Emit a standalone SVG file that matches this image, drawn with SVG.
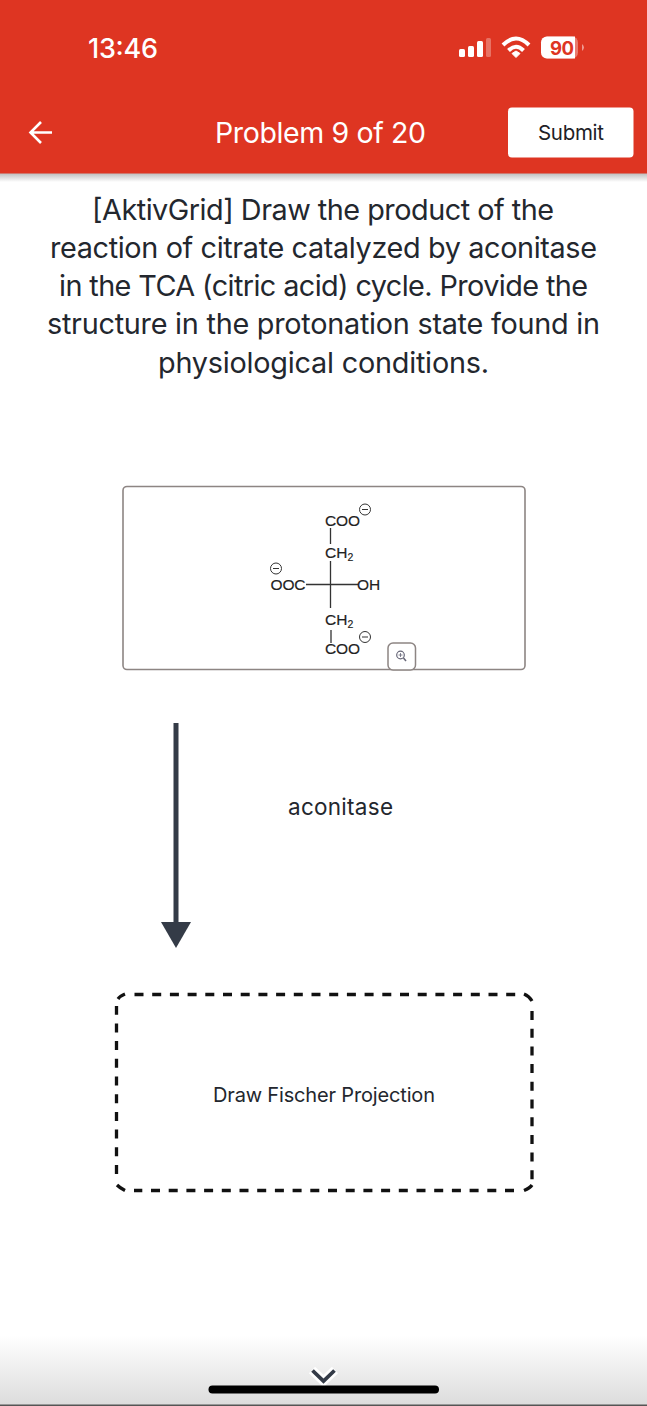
<svg xmlns="http://www.w3.org/2000/svg" width="647" height="1406" viewBox="0 0 647 1406">
<style>
text{font-family:Inter,"Liberation Sans",Arial,sans-serif}
.q{font-size:28.800px;fill:#23272e}
.chem{font-family:"Liberation Sans",Arial,sans-serif;font-size:15.500px;fill:#222;stroke:#222;stroke-width:.15}
.bond{stroke:#333;stroke-width:1.300;fill:none}
.neg{fill:#fff;stroke:#333;stroke-width:1}
.negb{stroke:#333;stroke-width:1}
.solid{fill:none;stroke:#111;stroke-width:3.300}
.dash{fill:none;stroke:#111;stroke-width:3.300;stroke-dasharray:9 8.700}
</style>
<defs>
<linearGradient id="fade" x1="0" y1="0" x2="0" y2="1"><stop offset="0" stop-color="#fff"/><stop offset="1" stop-color="#dcdcdc"/></linearGradient>
<linearGradient id="shadow" x1="0" y1="0" x2="0" y2="1"><stop offset="0" stop-color="#bbb"/><stop offset="1" stop-color="#fff"/></linearGradient>
</defs>
<rect width="647" height="1406" fill="#fff"/>
<rect id="bottom-fade" y="1335" width="647" height="70" fill="url(#fade)"/>
<rect y="1404.500" width="647" height="1.500" fill="#555"/>
<rect id="header-shadow" y="173" width="647" height="9" fill="url(#shadow)"/>
<g id="header">
<rect width="647" height="173.500" fill="#de3522"/>
<text x="88" y="57.500" font-size="27" fill="#fff" font-weight="500" textLength="70">13:46</text>
<g id="signal" fill="#fff">
<rect x="459" y="49" width="6" height="8" rx="1.500"/>
<rect x="468" y="46" width="6" height="11" rx="1.500"/>
<rect x="477" y="41" width="6" height="16" rx="1.500"/>
<rect x="486" y="38" width="5" height="19" rx="1.500" opacity=".3"/>
</g>
<g id="wifi" fill="none" stroke="#fff" stroke-width="4">
<path d="M503 45Q516 32 529 45"/>
<path d="M508.500 50.500Q516 43 523.500 50.500"/>
<path d="M512 53.500L516 57.500L520 53.500L516 51Z" fill="#fff" stroke-width="1"/>
</g>
<g id="battery">
<rect x="541" y="36.500" width="37" height="22" rx="6" fill="#fff" opacity=".35"/>
<path d="M547 36.500H575V58.500H547A6 6 0 0 1 541 52.500V42.500A6 6 0 0 1 547 36.500Z" fill="#fff"/>
<path d="M582 44Q586 47.500 582 51Z" fill="#fff" opacity=".5"/>
<text x="550" y="54.500" font-size="18.500" fill="#de3522" font-weight="700" textLength="24">90</text>
</g>
<path id="back" d="M52 132.500H31M41 122L30.500 132.500L41 143" fill="none" stroke="#fff" stroke-width="2.600"/>
<text x="215" y="142.500" font-size="28.500" fill="#fff" textLength="211">Problem 9 of 20</text>
<g id="submit">
<rect x="508" y="107.500" width="125.500" height="50" rx="4" fill="#fff"/>
<text x="538" y="139.500" font-size="20.500" fill="#1e2126" textLength="66">Submit</text>
</g>
</g>
<g id="question">
<text class="q" x="92" y="219.500" textLength="462">[AktivGrid] Draw the product of the</text>
<text class="q" x="50" y="257.500" textLength="547">reaction of citrate catalyzed by aconitase</text>
<text class="q" x="59" y="296" textLength="529">in the TCA (citric acid) cycle. Provide the</text>
<text class="q" x="47" y="334" textLength="553">structure in the protonation state found in</text>
<text class="q" x="158" y="372.500" textLength="331">physiological conditions.</text>
</g>
<g id="citrate-box">
<rect x="123" y="486.500" width="402" height="183" rx="4" fill="#fff" stroke="#8d8583" stroke-width="1.600"/>
<g id="citrate-bonds">
<path class="bond" d="M330.500 528V544M330.500 561V608M331 630V643M306 584.500H358"/>
</g>
<text class="chem" x="325" y="526" textLength="35">COO</text>
<text class="chem" x="325" y="558">CH<tspan font-size="10.500" dy="3">2</tspan></text>
<text class="chem" x="270.500" y="590" textLength="35">OOC</text>
<text class="chem" x="357" y="590">OH</text>
<text class="chem" x="325" y="624.500">CH<tspan font-size="10.500" dy="3">2</tspan></text>
<text class="chem" x="325" y="654" textLength="35">COO</text>
<g id="charges">
<circle class="neg" cx="365" cy="509.500" r="5.500"/><path class="negb" d="M362 509.500H368"/>
<circle class="neg" cx="276" cy="568.500" r="5.500"/><path class="negb" d="M273 568.500H279"/>
<circle class="neg" cx="365" cy="637" r="5.500"/><path class="negb" d="M362 637H368"/>
</g>
<g id="zoom-button">
<rect x="388" y="643" width="27.500" height="27" rx="5" fill="#fff" stroke="#8d8583" stroke-width="1.500"/>
<circle cx="400.500" cy="655" r="3.800" fill="none" stroke="#667" stroke-width="1.200"/>
<path d="M403.500 658L406 661" stroke="#667" stroke-width="1.500"/>
<path d="M398.500 655H402.500M400.500 653V657" stroke="#667" stroke-width=".8"/>
</g>
</g>
<g id="connectors">
<path d="M176 723V925" stroke="#343b47" stroke-width="5" fill="none"/>
<path d="M161 922H191L176 948Z" fill="#343b47"/>
</g>
<text id="aconitase" x="288" y="814.500" font-size="22.500" fill="#23272e" textLength="105">aconitase</text>
<g id="draw-area">
<path class="solid" d="M118 999Q120 996 125 994"/>
<path class="dash" d="M134.500 994.500H522"/>
<path class="solid" d="M524 994Q529 996 532 1001"/>
<path class="dash" d="M532 1011V1180"/>
<path class="solid" d="M532 1185Q530 1188 524 1190.500"/>
<path class="dash" d="M514 1190.500H134"/>
<path class="solid" d="M125 1190.500Q120 1188 117 1185"/>
<path class="dash" d="M116.500 1174V1006"/>
<text x="213" y="1101.500" font-size="20" fill="#23272e" textLength="222">Draw Fischer Projection</text>
</g>
<g id="home-bar">
<path d="M312 1370L323.500 1381L335 1370" fill="none" stroke="#fff" stroke-width="9"/>
<path d="M312.500 1370.500L323.500 1381L334.500 1370.500" fill="none" stroke="#343b47" stroke-width="3.800"/>
<rect x="208.500" y="1385.500" width="230.500" height="8" rx="4" fill="#000"/>
</g>
</svg>
